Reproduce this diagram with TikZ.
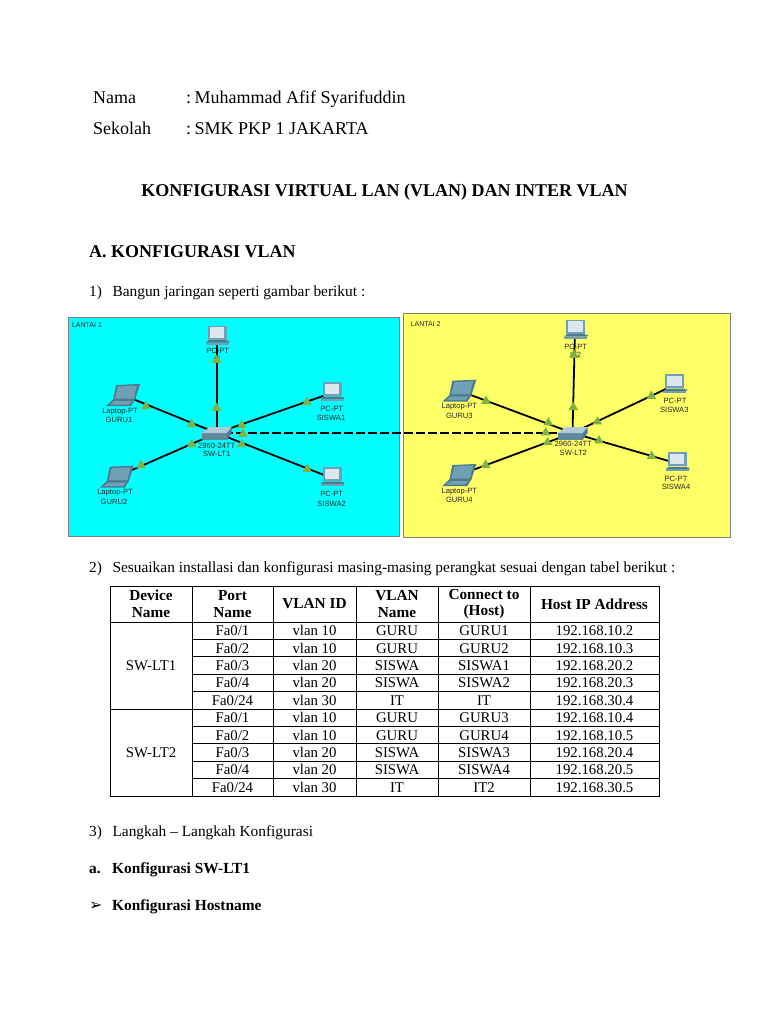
\documentclass[tikz,border=0pt]{standalone}
\usepackage{fontspec}
\setmainfont{Liberation Serif}
\setsansfont{Liberation Sans}
\newfontfamily\symfont{DejaVu Sans}
\usetikzlibrary{shapes.geometric}
\definecolor{lan1}{HTML}{00FFFF}
\definecolor{lan2}{HTML}{FFFF66}
\definecolor{tri}{HTML}{7DB342}
\definecolor{icondark}{HTML}{4F7A8E}
\definecolor{iconmid}{HTML}{6FA0B6}
\definecolor{iconlight}{HTML}{DCE8EE}
\tikzset{
  body/.style={anchor=base west,inner sep=0pt,font=\fontsize{15.4}{18}\selectfont},
  bodybig/.style={anchor=base west,inner sep=0pt,font=\fontsize{18}{21}\selectfont},
  cell/.style={inner sep=0pt,align=center,font=\fontsize{14.8}{17}\selectfont},
  hcell/.style={inner sep=0pt,align=center,font=\fontsize{15.3}{16.8}\selectfont\bfseries},
  panel/.style={draw=gray,line width=.8pt},
  lab/.style={inner sep=0pt,text=black!85,font=\sffamily\fontsize{7.6}{9}\selectfont},
  host/.style={inner sep=0pt,minimum width=16pt,minimum height=14pt},
  swbox/.style={inner sep=0pt,minimum width=14pt,minimum height=8pt},
  link/.style={line width=1.8pt,black},
  trunk/.style={line width=1.8pt,black,dash pattern=on 9pt off 3pt},
  ledn/.style={regular polygon,regular polygon sides=3,fill=tri,inner sep=0pt,minimum size=11pt},
  pcicon/.pic={
    \fill[iconmid] (-9,-11) rectangle (10,3);
    \fill[iconlight] (-7,-9.5) rectangle (7.5,1);
    \fill[icondark] (-11,6) -- (-8,3.5) -- (10,3.5) -- (12,6) -- cycle;
    \fill[iconmid] (-11,6) rectangle (12,8);
    \fill[icondark] (12,5) circle (1);
  },
  laptopicon/.pic={
    \fill[icondark] (-7,-10) -- (17,-11) -- (12,5) -- (-10,5) -- cycle;
    \fill[iconmid] (-5,-8.5) -- (14,-9.5) -- (10.5,3.5) -- (-8,3.5) -- cycle;
    \fill[icondark] (-10,4.5) -- (12,4.5) -- (8,11) -- (-17,11) -- cycle;
    \fill[iconmid] (-9,6) -- (9,6) -- (6,9.5) -- (-13,9.5) -- cycle;
  },
  switchicon/.pic={
    \fill[iconmid!85!black] (-15,-1) rectangle (10,6);
    \fill[icondark] (10,-1) -- (15,-7) -- (15,-1) -- (10,6) -- cycle;
    \fill[iconmid!55!white] (-15,-1) -- (-7,-7) -- (15,-7) -- (10,-1) -- cycle;
  }
}
\begin{document}
\begin{tikzpicture}[x=1pt,y=-1pt]
\useasboundingbox (0,0) rectangle (768,1024);
\fill[white] (0,0) rectangle (768,1024);
% heading text
\node[bodybig] (nama) at (93,103.5) {Nama};
\node[bodybig] (namav) at (186,103.5) {:\hspace{3.5pt}Muhammad Afif Syarifuddin};
\node[bodybig] (sek) at (93,134.5) {Sekolah};
\node[bodybig] (sekv) at (186,134.5) {:\hspace{3.5pt}SMK PKP 1 JAKARTA};
\node[bodybig,anchor=base,font=\fontsize{18}{21}\selectfont\bfseries] (title) at (384.5,196.5) {KONFIGURASI VIRTUAL LAN (VLAN) DAN INTER VLAN};
\node[bodybig,font=\fontsize{18}{21}\selectfont\bfseries] (seca) at (89,257) {A. KONFIGURASI VLAN};
\node[body] (s1) at (89,296) {1)\hspace{10.5pt}Bangun jaringan seperti gambar berikut :};
\node[body] (s2) at (89,572) {2)\hspace{10.5pt}Sesuaikan installasi dan konfigurasi masing-masing perangkat sesuai dengan tabel berikut :};
\node[body] (s3) at (89,836) {3)\hspace{10.5pt}Langkah – Langkah Konfigurasi};
\node[body,font=\fontsize{15.4}{18}\selectfont\bfseries] (sa) at (89,873) {a.};
\node[body,font=\fontsize{15.4}{18}\selectfont\bfseries] (sat) at (112,873) {Konfigurasi SW-LT1};
\node[body,font=\symfont\fontsize{16}{18}\selectfont] (sb) at (89,910) {➢};
\node[body,font=\fontsize{15.4}{18}\selectfont\bfseries] (sbt) at (112,910) {Konfigurasi Hostname};
% panels
\filldraw[panel,fill=lan1] (68,317) rectangle (399,536);
\filldraw[panel,fill=lan2] (403,313) rectangle (730.5,537);
\node[lab,font=\sffamily\fontsize{7}{8}\selectfont] (l1) at (87,325.3) {LANTAI 1};
\node[lab,font=\sffamily\fontsize{7}{8}\selectfont] (l2) at (425.7,323.7) {LANTAI 2};
% device labels
\foreach \nm/\xx/\yy/\tx in {
  a1/217.7/350.7/PC-PT, a2/217/360/IT,
  a3/120/411.7/Laptop-PT, a4/119/420.3/GURU1,
  a5/331.7/409/PC-PT, a6/331/418.3/SISWA1,
  a7/115/493/Laptop-PT, a8/114/501.7/GURU2,
  a9/331.7/494.3/PC-PT, a10/331.7/503.7/SISWA2,
  a11/216.7/445.7/2960-24TT, a12/216.7/454.3/SW-LT1,
  b1/575.7/346.7/PC-PT, b2/575.7/355.3/IT2,
  b3/459.3/406.7/Laptop-PT, b4/459.3/415.7/GURU3,
  b5/675/400.7/PC-PT, b6/674.3/409.7/SISWA3,
  b7/459.3/491.3/Laptop-PT, b8/459.3/500/GURU4,
  b9/676/478.7/PC-PT, b10/676/487.3/SISWA4,
  b11/573.3/444.3/2960-24TT, b12/573.3/453.3/SW-LT2}
  \node[lab] (\nm) at (\xx,\yy) {\tx};
% device anchors
\node[swbox] (sw1) at (216.7,433) {};
\node[swbox] (sw2) at (572.5,433) {};
\node[host] (it1) at (216.7,336.7) {};
\node[host] (guru1) at (123,395) {};
\node[host] (siswa1) at (331.7,393) {};
\node[host] (guru2) at (116.7,476.7) {};
\node[host] (siswa2) at (331.7,478) {};
\node[host] (it2) at (575,330.7) {};
\node[host] (guru3) at (459.3,390.7) {};
\node[host] (siswa3) at (674.3,385) {};
\node[host] (guru4) at (459.3,475) {};
\node[host] (siswa4) at (676.7,463.3) {};
% connectors
\foreach \a/\b in {sw1/it1,sw1/guru1,sw1/siswa1,sw1/guru2,sw1/siswa2,sw2/it2,sw2/guru3,sw2/siswa3,sw2/guru4,sw2/siswa4}
  \draw[link] (\a) -- (\b);
\draw[trunk] (sw1) -- (sw2);
% link lights
\foreach \xx/\yy [count=\i] in {258/289,395/342,470/294,470/150,545/346,741/276,549/372,545/403,741/478,395/403,243/466}
  \node[ledn] (ta\i) at ({60+\xx/3},{310+\yy/3}) {};
\foreach \xx/\yy [count=\i] in {258/273,445/338,520/292,522/135,592/335,754/258,437/368,443/397,597/392,755/438,257/465}
  \node[ledn] (tb\i) at ({400+\xx/3},{310+\yy/3}) {};
% icons
\foreach \xx/\yy in {216.7/336.7,331.7/393,331.7/478,575/330.7,674.3/385,676.7/463.3}
  \pic at (\xx,\yy) {pcicon};
\foreach \xx/\yy in {123/395,116.7/476.7,459.3/390.7,459.3/475}
  \pic at (\xx,\yy) {laptopicon};
\pic at (216.7,434) {switchicon};
\pic at (572.5,434) {switchicon};
% table rules
\draw[line width=.9pt] (110,586.5) rectangle (659,796);
\foreach \xx in {192,273,356,438,530}
  \draw[line width=.8pt] (\xx,586.5) -- (\xx,796);
\draw[line width=.8pt] (110,622) -- (659,622);
\draw[line width=.8pt] (110,709) -- (659,709);
\foreach \i in {1,2,3,4,6,7,8,9}
  \draw[line width=.8pt] (192,{622+17.4*\i}) -- (659,{622+17.4*\i});
% header cells
\node[hcell] (h1) at (151,604) {Device\\Name};
\node[hcell] (h2) at (232.5,604) {Port\\Name};
\node[hcell] (h3) at (314.5,604) {VLAN ID};
\node[hcell] (h4) at (397,604) {VLAN\\Name};
\node[hcell] (h5) at (484,604) {Connect to\\(Host)};
\node[hcell] (h6) at (594.5,604) {Host IP Address};
\node[cell] (d1) at (151,665.5) {SW-LT1};
\node[cell] (d2) at (151,752.5) {SW-LT2};
% data cells
\foreach \pt/\vl/\nm/\hs/\ip [count=\i from 0] in {
  {Fa0/1}/{vlan 10}/GURU/GURU1/192.168.10.2,
  {Fa0/2}/{vlan 10}/GURU/GURU2/192.168.10.3,
  {Fa0/3}/{vlan 20}/SISWA/SISWA1/192.168.20.2,
  {Fa0/4}/{vlan 20}/SISWA/SISWA2/192.168.20.3,
  {Fa0/24}/{vlan 30}/IT/IT/192.168.30.4,
  {Fa0/1}/{vlan 10}/GURU/GURU3/192.168.10.4,
  {Fa0/2}/{vlan 10}/GURU/GURU4/192.168.10.5,
  {Fa0/3}/{vlan 20}/SISWA/SISWA3/192.168.20.4,
  {Fa0/4}/{vlan 20}/SISWA/SISWA4/192.168.20.5,
  {Fa0/24}/{vlan 30}/IT/IT2/192.168.30.5}{
  \node[cell,text height=10pt,text depth=0pt] (p\i) at (232.5,{630.7+17.4*\i}) {\pt};
  \node[cell,text height=10pt,text depth=0pt] (v\i) at (314.5,{630.7+17.4*\i}) {\vl};
  \node[cell,text height=10pt,text depth=0pt] (n\i) at (397,{630.7+17.4*\i}) {\nm};
  \node[cell,text height=10pt,text depth=0pt] (c\i) at (484,{630.7+17.4*\i}) {\hs};
  \node[cell,text height=10pt,text depth=0pt] (i\i) at (594.5,{630.7+17.4*\i}) {\ip};
}
\end{tikzpicture}
\end{document}
